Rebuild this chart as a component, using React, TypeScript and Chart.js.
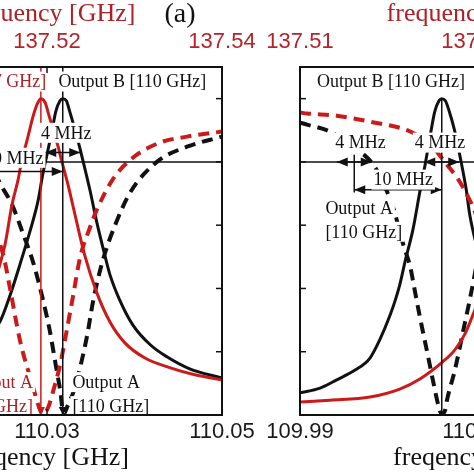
import { useEffect, useRef } from "react";
import { Chart, registerables } from "chart.js";

Chart.register(...registerables);

const INK = "#111111";
const RED = "#cc1a1a";
const RED_TEXT = "#ad2126";
const SERIF = '"Liberation Serif", "Times New Roman", serif';
const SANS = '"Liberation Sans", Arial, sans-serif';

// Reference carriers (GHz); traces are stored as detuning in MHz from these.
const REF_110 = 110;
const REF_137 = 137.5;

// ---------- panel (a), left ----------
const p1BlackSolidMHz = [21.2, 22.9, 24.6, 25.8, 26.9, 28.1, 29.0, 29.5, 30.0, 30.6, 31.0, 31.5, 31.8, 32.2, 32.6, 33.2, 33.8, 34.3, 34.9, 35.7, 36.6, 37.2, 38.3, 39.8, 41.8, 43.7, 46.3, 50.0];
const p1BlackSolidAmp = [0.199, 0.244, 0.294, 0.38, 0.475, 0.585, 0.68, 0.759, 0.823, 0.902, 0.959, 0.994, 1.0, 0.994, 0.959, 0.902, 0.839, 0.782, 0.712, 0.608, 0.506, 0.443, 0.364, 0.285, 0.222, 0.184, 0.146, 0.117];

const p1BlackDashedMHz = [21.2, 22.9, 24.6, 26.0, 27.3, 28.4, 29.4, 30.3, 31.0, 31.5, 31.9, 32.4, 33.1, 33.8, 34.6, 35.3, 36.4, 37.8, 39.5, 42.6, 46.0, 50.0];
const p1BlackDashedAmp = [0.918, 0.839, 0.734, 0.665, 0.57, 0.484, 0.38, 0.269, 0.158, 0.079, 0.003, 0.032, 0.079, 0.152, 0.253, 0.364, 0.491, 0.601, 0.703, 0.801, 0.848, 0.88];

const p1RedSolidMHz = [12.3, 14.6, 15.2, 16.0, 16.7, 17.1, 17.8, 18.4, 18.9, 19.3, 19.8, 20.1, 20.7, 21.3, 21.7, 22.4, 23.2, 24.3, 25.7, 27.2, 28.9, 31.2, 34.1, 36.9, 40.0];
const p1RedSolidAmp = [0.269, 0.475, 0.538, 0.665, 0.744, 0.801, 0.877, 0.943, 0.984, 1.0, 0.987, 0.959, 0.902, 0.845, 0.801, 0.728, 0.633, 0.506, 0.386, 0.294, 0.228, 0.18, 0.149, 0.127, 0.111];

const p1RedDashedMHz = [10.1, 11.2, 12.9, 15.0, 15.8, 16.9, 18.4, 19.0, 19.5, 20.1, 20.9, 21.5, 22.2, 22.9, 23.8, 24.9, 25.7, 27.5, 29.8, 32.9, 36.0, 40.0];
const p1RedDashedAmp = [0.791, 0.744, 0.649, 0.506, 0.396, 0.237, 0.089, 0.032, 0.003, 0.022, 0.095, 0.158, 0.259, 0.364, 0.5, 0.592, 0.649, 0.744, 0.813, 0.861, 0.88, 0.896];

const p1BottomTicks = [110.01, 110.03, 110.05];
const p1TopTicks = [137.5, 137.52, 137.54];

// ---------- panel (b), right ----------
const p2BlackSolidMHz = [-10.0, -7.7, -5.8, -3.7, -2.0, -0.9, 0.3, 0.9, 1.4, 2.0, 2.9, 3.7, 4.3, 4.9, 5.4, 5.9, 6.2, 6.6, 7.0, 7.7, 8.3, 9.0, 9.4, 10.3, 11.7];
const p2BlackSolidAmp = [0.07, 0.085, 0.111, 0.142, 0.18, 0.237, 0.316, 0.364, 0.411, 0.484, 0.585, 0.706, 0.791, 0.886, 0.959, 0.994, 1.0, 0.994, 0.965, 0.896, 0.816, 0.712, 0.633, 0.522, 0.38];

const p2BlackDashedMHz = [-10.0, -9.2, -6.6, -3.7, -1.4, 0.1, 0.9, 1.4, 2.0, 2.6, 3.1, 3.7, 4.6, 5.3, 5.8, 6.2, 6.6, 6.8, 7.7, 8.6, 9.4, 10.3];
const p2BlackDashedAmp = [0.924, 0.918, 0.896, 0.845, 0.782, 0.696, 0.633, 0.576, 0.522, 0.468, 0.396, 0.31, 0.19, 0.095, 0.032, 0.003, 0.016, 0.047, 0.142, 0.259, 0.364, 0.491];

const p2RedSolidMHz = [10.0, 13.4, 18.0, 21.4, 23.7, 26.3, 27.7, 28.9, 29.9, 31.1];
const p2RedSolidAmp = [0.041, 0.047, 0.057, 0.082, 0.114, 0.168, 0.206, 0.259, 0.326, 0.411];

const p2RedDashedMHz = [10.0, 10.8, 14.2, 18.0, 22.6, 24.9, 26.8, 28.1, 29.2, 29.9, 31.1];
const p2RedDashedAmp = [0.956, 0.953, 0.946, 0.927, 0.896, 0.854, 0.791, 0.744, 0.69, 0.649, 0.554];

const p2BottomTicks = [109.99, 110.01, 110.03];
const p2TopTicks = [137.51, 137.53, 137.55];

const ampTicks = [0, 0.2, 0.4, 0.6, 0.8, 1.0];

type AxisId = "x" | "x2";
interface Marker { axis: AxisId; at: number; top: number; color: string; foot: boolean }
interface Bar { axis: AxisId; at: number; y0: number; y1: number }
interface Span { axis: AxisId; from: number; to: number; y: number }
interface Note { axis: AxisId; at: number; y: number; lines: string[]; color: string; align: "left" | "right" | "center" }
interface PanelSpec {
  canvasLeft: number;
  canvasWidth: number;
  padLeft: number;
  padRight: number;
  xRange: [number, number];
  x2Range: [number, number];
  bottomTicks: number[];
  topTicks: number[];
  datasets: any[];
  level: number;
  markers: Marker[];
  bars: Bar[];
  spans: Span[];
  notes: Note[];
  tag?: string;
}

const toPoints = (ref: number, mhz: number[], amp: number[]) =>
  mhz.map((m, i) => ({ x: ref + m / 1000, y: amp[i] }));

const trace = (label: string, ref: number, mhz: number[], amp: number[], color: string, dashed: boolean, axis: AxisId) => ({
  label,
  data: toPoints(ref, mhz, amp),
  xAxisID: axis,
  yAxisID: "y",
  borderColor: color,
  borderWidth: dashed ? 4 : 3,
  borderDash: dashed ? [11, 7] : [],
  borderCapStyle: "butt",
  pointRadius: 0,
  showLine: true,
  fill: false,
  cubicInterpolationMode: "monotone",
});

const panelA: PanelSpec = {
  canvasLeft: -150,
  canvasWidth: 415,
  padLeft: 22,
  padRight: 43,
  xRange: [110.01, 110.05],
  x2Range: [137.5, 137.54],
  bottomTicks: p1BottomTicks,
  topTicks: p1TopTicks,
  datasets: [
    trace("A 137", REF_137, p1RedDashedMHz, p1RedDashedAmp, RED, true, "x2"),
    trace("B 137", REF_137, p1RedSolidMHz, p1RedSolidAmp, RED, false, "x2"),
    trace("A 110", REF_110, p1BlackDashedMHz, p1BlackDashedAmp, INK, true, "x"),
    trace("B 110", REF_110, p1BlackSolidMHz, p1BlackSolidAmp, INK, false, "x"),
  ],
  level: 0.8,
  markers: [
    { axis: "x2", at: 137.5193, top: 1.1, color: RED, foot: true },
    { axis: "x", at: 110.0318, top: 1.1, color: INK, foot: true },
  ],
  bars: [],
  spans: [
    { axis: "x", from: 110.0298, to: 110.0338, y: 0.83 },
    { axis: "x", from: 110.0218, to: 110.0318, y: 0.77 },
  ],
  notes: [
    { axis: "x2", at: 137.5199, y: 1.054, lines: ["Output B [137 GHz]"], color: RED_TEXT, align: "right" },
    { axis: "x", at: 110.0313, y: 1.054, lines: ["Output B [110 GHz]"], color: INK, align: "left" },
    { axis: "x", at: 110.0322, y: 0.892, lines: ["4 MHz"], color: INK, align: "center" },
    { axis: "x", at: 110.0262, y: 0.813, lines: ["10 MHz"], color: INK, align: "center" },
    { axis: "x2", at: 137.5184, y: 0.104, lines: ["Output A", "[137 GHz]"], color: RED_TEXT, align: "right" },
    { axis: "x", at: 110.0329, y: 0.104, lines: ["Output A", "[110 GHz]"], color: INK, align: "left" },
  ],
  tag: "(a)",
};

const panelB: PanelSpec = {
  canvasLeft: 255,
  canvasWidth: 450,
  padLeft: 45,
  padRight: 55,
  xRange: [109.99, 110.03],
  x2Range: [137.51, 137.55],
  bottomTicks: p2BottomTicks,
  topTicks: p2TopTicks,
  datasets: [
    trace("A 137", REF_137, p2RedSolidMHz, p2RedSolidAmp, RED, false, "x2"),
    trace("B 137", REF_137, p2RedDashedMHz, p2RedDashedAmp, RED, true, "x2"),
    trace("A 110", REF_110, p2BlackDashedMHz, p2BlackDashedAmp, INK, true, "x"),
    trace("B 110", REF_110, p2BlackSolidMHz, p2BlackSolidAmp, INK, false, "x"),
  ],
  level: 0.8,
  markers: [{ axis: "x", at: 110.0062, top: 1.0, color: INK, foot: false }],
  bars: [{ axis: "x", at: 109.9962, y0: 0.703, y1: 0.823 }],
  spans: [
    { axis: "x", from: 109.9942, to: 109.9982, y: 0.8 },
    { axis: "x", from: 110.0042, to: 110.0082, y: 0.8 },
    { axis: "x", from: 109.9962, to: 110.0062, y: 0.712 },
  ],
  notes: [
    { axis: "x", at: 110.0004, y: 1.054, lines: ["Output B [110 GHz]"], color: INK, align: "center" },
    { axis: "x", at: 109.9969, y: 0.861, lines: ["4 MHz"], color: INK, align: "center" },
    { axis: "x", at: 110.006, y: 0.861, lines: ["4 MHz"], color: INK, align: "center" },
    { axis: "x", at: 110.0018, y: 0.744, lines: ["10 MHz"], color: INK, align: "center" },
    { axis: "x", at: 109.9929, y: 0.655, lines: ["Output A", "[110 GHz]"], color: INK, align: "left" },
  ],
};

function seg(ctx: CanvasRenderingContext2D, x0: number, y0: number, x1: number, y1: number) {
  ctx.beginPath();
  ctx.moveTo(x0, y0);
  ctx.lineTo(x1, y1);
  ctx.stroke();
}

// arrow head with its tip at (x, y), pointing along dir (-1 left, +1 right)
function head(ctx: CanvasRenderingContext2D, x: number, y: number, dir: number) {
  ctx.beginPath();
  ctx.moveTo(x, y);
  ctx.lineTo(x - dir * 11, y - 4.5);
  ctx.lineTo(x - dir * 11, y + 4.5);
  ctx.closePath();
  ctx.fill();
}

function decor(spec: PanelSpec) {
  return {
    id: "panelDecor",
    afterDatasetsDraw(chart: any) {
      const { ctx, chartArea: a } = chart;
      const sx = (axis: AxisId, v: number) => chart.scales[axis].getPixelForValue(v);
      const sy = (v: number) => chart.scales.y.getPixelForValue(v);
      ctx.save();
      ctx.beginPath();
      ctx.rect(a.left, a.top, a.right - a.left, a.bottom - a.top);
      ctx.clip();
      ctx.setLineDash([]);
      ctx.lineWidth = 1.5;
      ctx.strokeStyle = INK;
      const hy = sy(spec.level);
      seg(ctx, a.left, hy, a.right, hy);
      for (const m of spec.markers) {
        const x = sx(m.axis, m.at);
        ctx.strokeStyle = m.color;
        ctx.fillStyle = m.color;
        seg(ctx, x, sy(m.top), x, a.bottom);
        if (m.foot) {
          ctx.beginPath();
          ctx.moveTo(x, a.bottom);
          ctx.lineTo(x - 4, a.bottom - 8);
          ctx.lineTo(x + 4, a.bottom - 8);
          ctx.closePath();
          ctx.fill();
        }
      }
      ctx.strokeStyle = INK;
      ctx.fillStyle = INK;
      for (const b of spec.bars) {
        const x = sx(b.axis, b.at);
        seg(ctx, x, sy(b.y0), x, sy(b.y1));
      }
      for (const s of spec.spans) {
        const x0 = sx(s.axis, s.from);
        const x1 = sx(s.axis, s.to);
        const y = sy(s.y);
        seg(ctx, x0, y, x1, y);
        head(ctx, x0, y, -1);
        head(ctx, x1, y, 1);
      }
      ctx.font = `18px ${SERIF}`;
      ctx.textBaseline = "middle";
      ctx.textAlign = "left";
      for (const n of spec.notes) {
        const x = sx(n.axis, n.at);
        const y0 = sy(n.y);
        n.lines.forEach((line, i) => {
          const w = ctx.measureText(line).width;
          const y = y0 + i * 24;
          const left = n.align === "left" ? x : n.align === "right" ? x - w : x - w / 2;
          ctx.fillStyle = "#ffffff";
          ctx.fillRect(left - 2, y - 10, w + 4, 20);
          ctx.fillStyle = n.color;
          ctx.fillText(line, left, y + 1);
        });
      }
      ctx.restore();
    },
    afterDraw(chart: any) {
      const { ctx, chartArea: a } = chart;
      const sy = (v: number) => chart.scales.y.getPixelForValue(v);
      ctx.save();
      ctx.setLineDash([]);
      ctx.strokeStyle = INK;
      ctx.lineWidth = 2;
      ctx.strokeRect(a.left, a.top, a.right - a.left, a.bottom - a.top);
      ctx.lineWidth = 1.5;
      for (const v of ampTicks) {
        const y = sy(v);
        seg(ctx, a.left, y, a.left + 6, y);
        seg(ctx, a.right - 6, y, a.right, y);
      }
      for (const v of spec.topTicks) {
        const x = chart.scales.x2.getPixelForValue(v);
        seg(ctx, x, a.top, x, a.top + 6);
      }
      for (const v of spec.bottomTicks) {
        const x = chart.scales.x.getPixelForValue(v);
        seg(ctx, x, a.bottom, x, a.bottom - 6);
      }
      if (spec.tag) {
        ctx.font = `28px ${SERIF}`;
        ctx.fillStyle = INK;
        ctx.textAlign = "center";
        ctx.textBaseline = "middle";
        ctx.fillText(spec.tag, a.right - 42, 15);
      }
      ctx.restore();
    },
  };
}

function Panel({ spec }: { spec: PanelSpec }) {
  const ref = useRef<HTMLCanvasElement | null>(null);
  useEffect(() => {
    if (!ref.current) return;
    const chart = new Chart(ref.current, {
      type: "scatter",
      data: { datasets: spec.datasets },
      plugins: [decor(spec)],
      options: {
        responsive: false,
        animation: false,
        devicePixelRatio: 1,
        layout: { padding: { left: spec.padLeft, right: spec.padRight, top: 0, bottom: 0 } },
        plugins: { legend: { display: false }, tooltip: { enabled: false } },
        scales: {
          x: {
            type: "linear",
            position: "bottom",
            min: spec.xRange[0],
            max: spec.xRange[1],
            grid: { display: false },
            border: { display: false },
            afterBuildTicks: (s: any) => {
              s.ticks = spec.bottomTicks.map((v) => ({ value: v }));
            },
            ticks: {
              autoSkip: false,
              maxRotation: 0,
              padding: -4,
              color: "#1a1a1a",
              font: { family: SANS, size: 22 },
              callback: (v: any) => Number(v).toFixed(2),
            },
            title: {
              display: true,
              text: "freqency [GHz]",
              color: INK,
              font: { family: SERIF, size: 26 },
              padding: { top: 0, bottom: 0 },
            },
            afterFit: (s: any) => {
              s.height = 59;
              s.paddingLeft = 0;
              s.paddingRight = 0;
            },
          },
          x2: {
            type: "linear",
            position: "top",
            min: spec.x2Range[0],
            max: spec.x2Range[1],
            grid: { display: false },
            border: { display: false },
            afterBuildTicks: (s: any) => {
              s.ticks = spec.topTicks.map((v) => ({ value: v }));
            },
            ticks: {
              autoSkip: false,
              maxRotation: 0,
              padding: 4,
              color: "#b3242a",
              font: { family: SANS, size: 22 },
              callback: (v: any) => Number(v).toFixed(2),
            },
            title: {
              display: true,
              text: "frequency [GHz]",
              color: RED_TEXT,
              font: { family: SERIF, size: 26 },
              padding: { top: -1, bottom: 0 },
            },
            afterFit: (s: any) => {
              s.height = 67;
              s.paddingLeft = 0;
              s.paddingRight = 0;
            },
          },
          y: { display: false, min: 0, max: 1.1 },
        },
      } as any,
    });
    return () => chart.destroy();
  }, [spec]);
  return (
    <canvas
      ref={ref}
      width={spec.canvasWidth}
      height={474}
      style={{ position: "absolute", left: spec.canvasLeft, top: 0 }}
    />
  );
}

export default function App() {
  return (
    <div
      style={{
        position: "fixed",
        left: 0,
        top: 0,
        width: 474,
        height: 474,
        overflow: "hidden",
        background: "#ffffff",
      }}
    >
      <Panel spec={panelA} />
      <Panel spec={panelB} />
    </div>
  );
}
